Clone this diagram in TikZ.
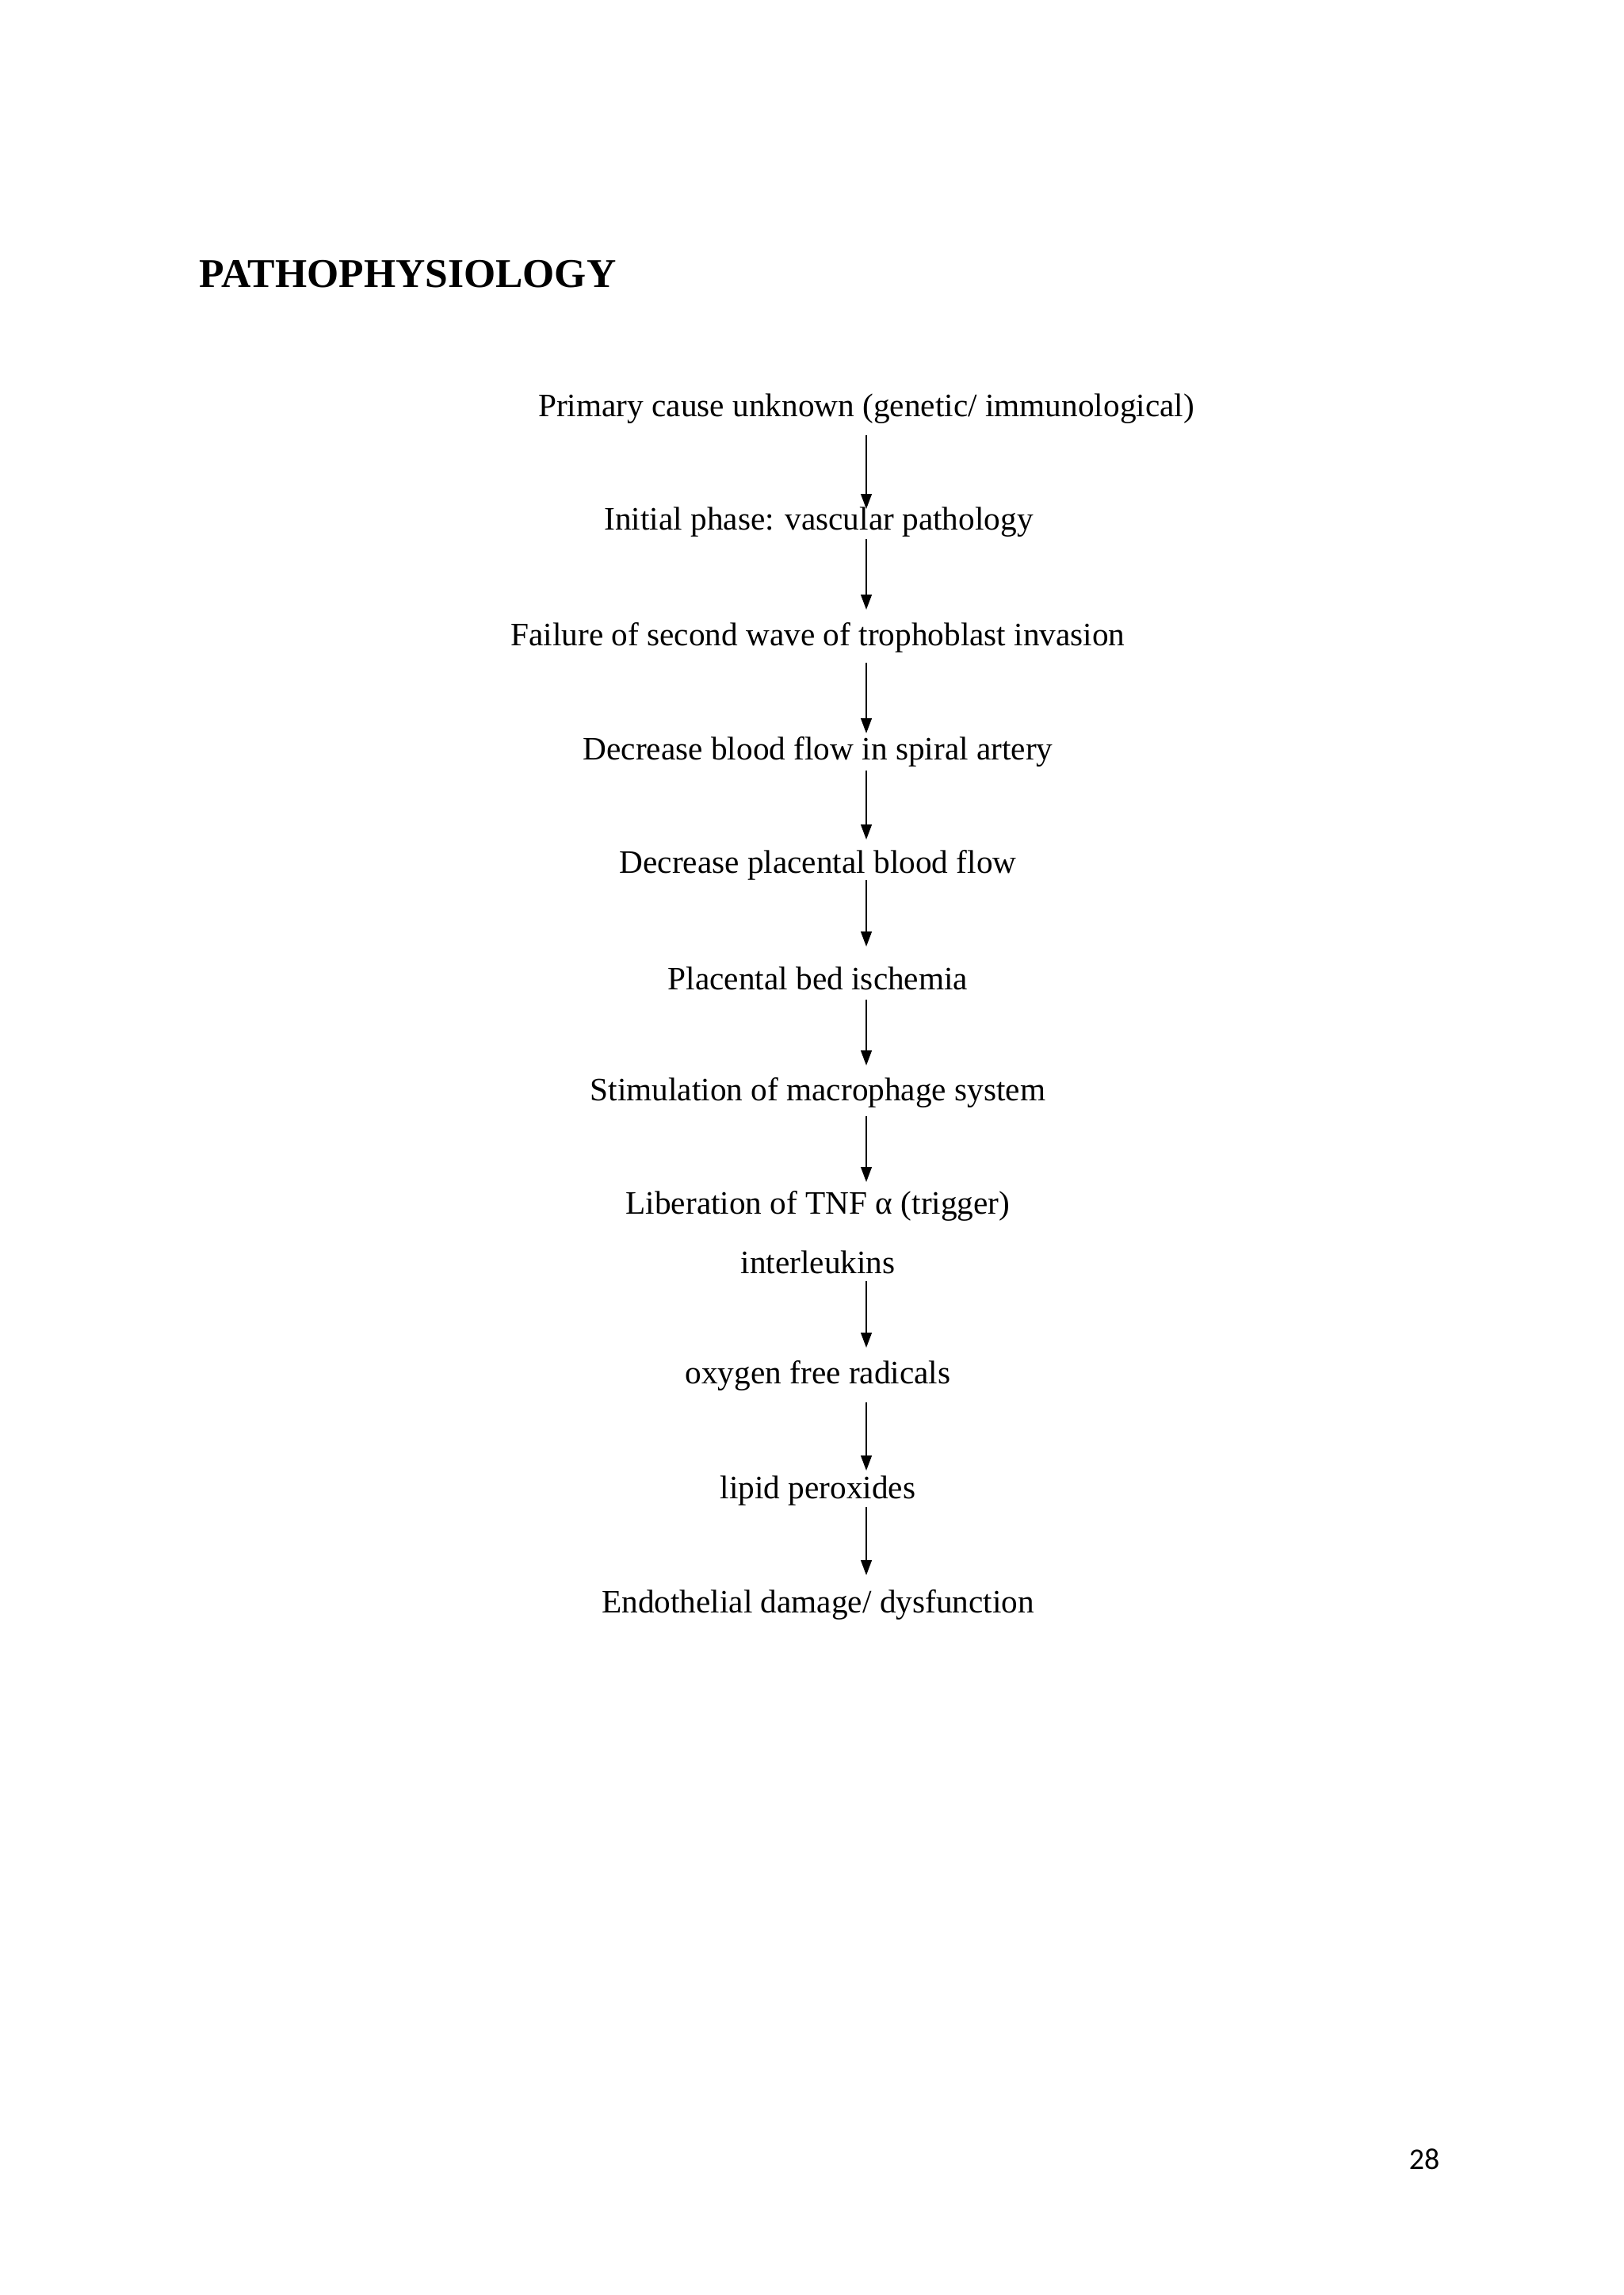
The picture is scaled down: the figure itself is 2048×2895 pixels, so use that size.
\documentclass[tikz,border=0pt]{standalone}
\usepackage{fontspec}
\setmainfont{Liberation Serif}
\newfontfamily\pagefont{Carlito}
\usetikzlibrary{arrows.meta}
\begin{document}
\begin{tikzpicture}[x=0.29067pt,y=-0.29067pt,
  lbl/.style={inner sep=0pt,font=\fontsize{12}{14}\selectfont},
  flow/.style={line width=0.5pt,-{Triangle[length=5.5pt,width=4pt]}}]
\useasboundingbox (0,0) rectangle (2048,2895);
\node[anchor=west,inner sep=0pt,font=\fontsize{15}{18}\selectfont\bfseries] (title) at (251,346) {PATHOPHYSIOLOGY};
\node[lbl] (n1) at (1093,516) {Primary cause unknown (genetic/ immunological)};
\node[lbl] (n2) at (1033,659) {Initial phase: vascular pathology};
\node[lbl] (n3) at (1032,804) {Failure of second wave of trophoblast invasion};
\node[lbl] (n4) at (1032,948) {Decrease blood flow in spiral artery};
\node[lbl] (n5) at (1032,1091) {Decrease placental blood flow};
\node[lbl] (n6) at (1032,1234) {Placental bed ischemia};
\node[lbl] (n7) at (1032,1378) {Stimulation of macrophage system};
\node[lbl] (n8) at (1032,1521) {Liberation of TNF α (trigger)};
\node[lbl] (n9) at (1032,1592) {interleukins};
\node[lbl] (n10) at (1032,1735) {oxygen free radicals};
\node[lbl] (n11) at (1032,1881) {lipid peroxides};
\node[lbl] (n12) at (1032,2024) {Endothelial damage/ dysfunction};
\node[inner sep=0pt,font=\pagefont\fontsize{11}{13}\selectfont] (pg) at (1797,2724) {28};
\foreach \i/\a/\b in {1/549/642,2/680/769,3/836/925,4/972/1059,5/1110/1194,6/1261/1344,7/1408/1491,8/1616/1700,9/1769/1855,10/1901/1987}{
  \coordinate (s\i) at (1093,\a);
  \coordinate (e\i) at (1093,\b);
  \draw[flow] (s\i) -- (e\i);
}
\end{tikzpicture}
\end{document}
